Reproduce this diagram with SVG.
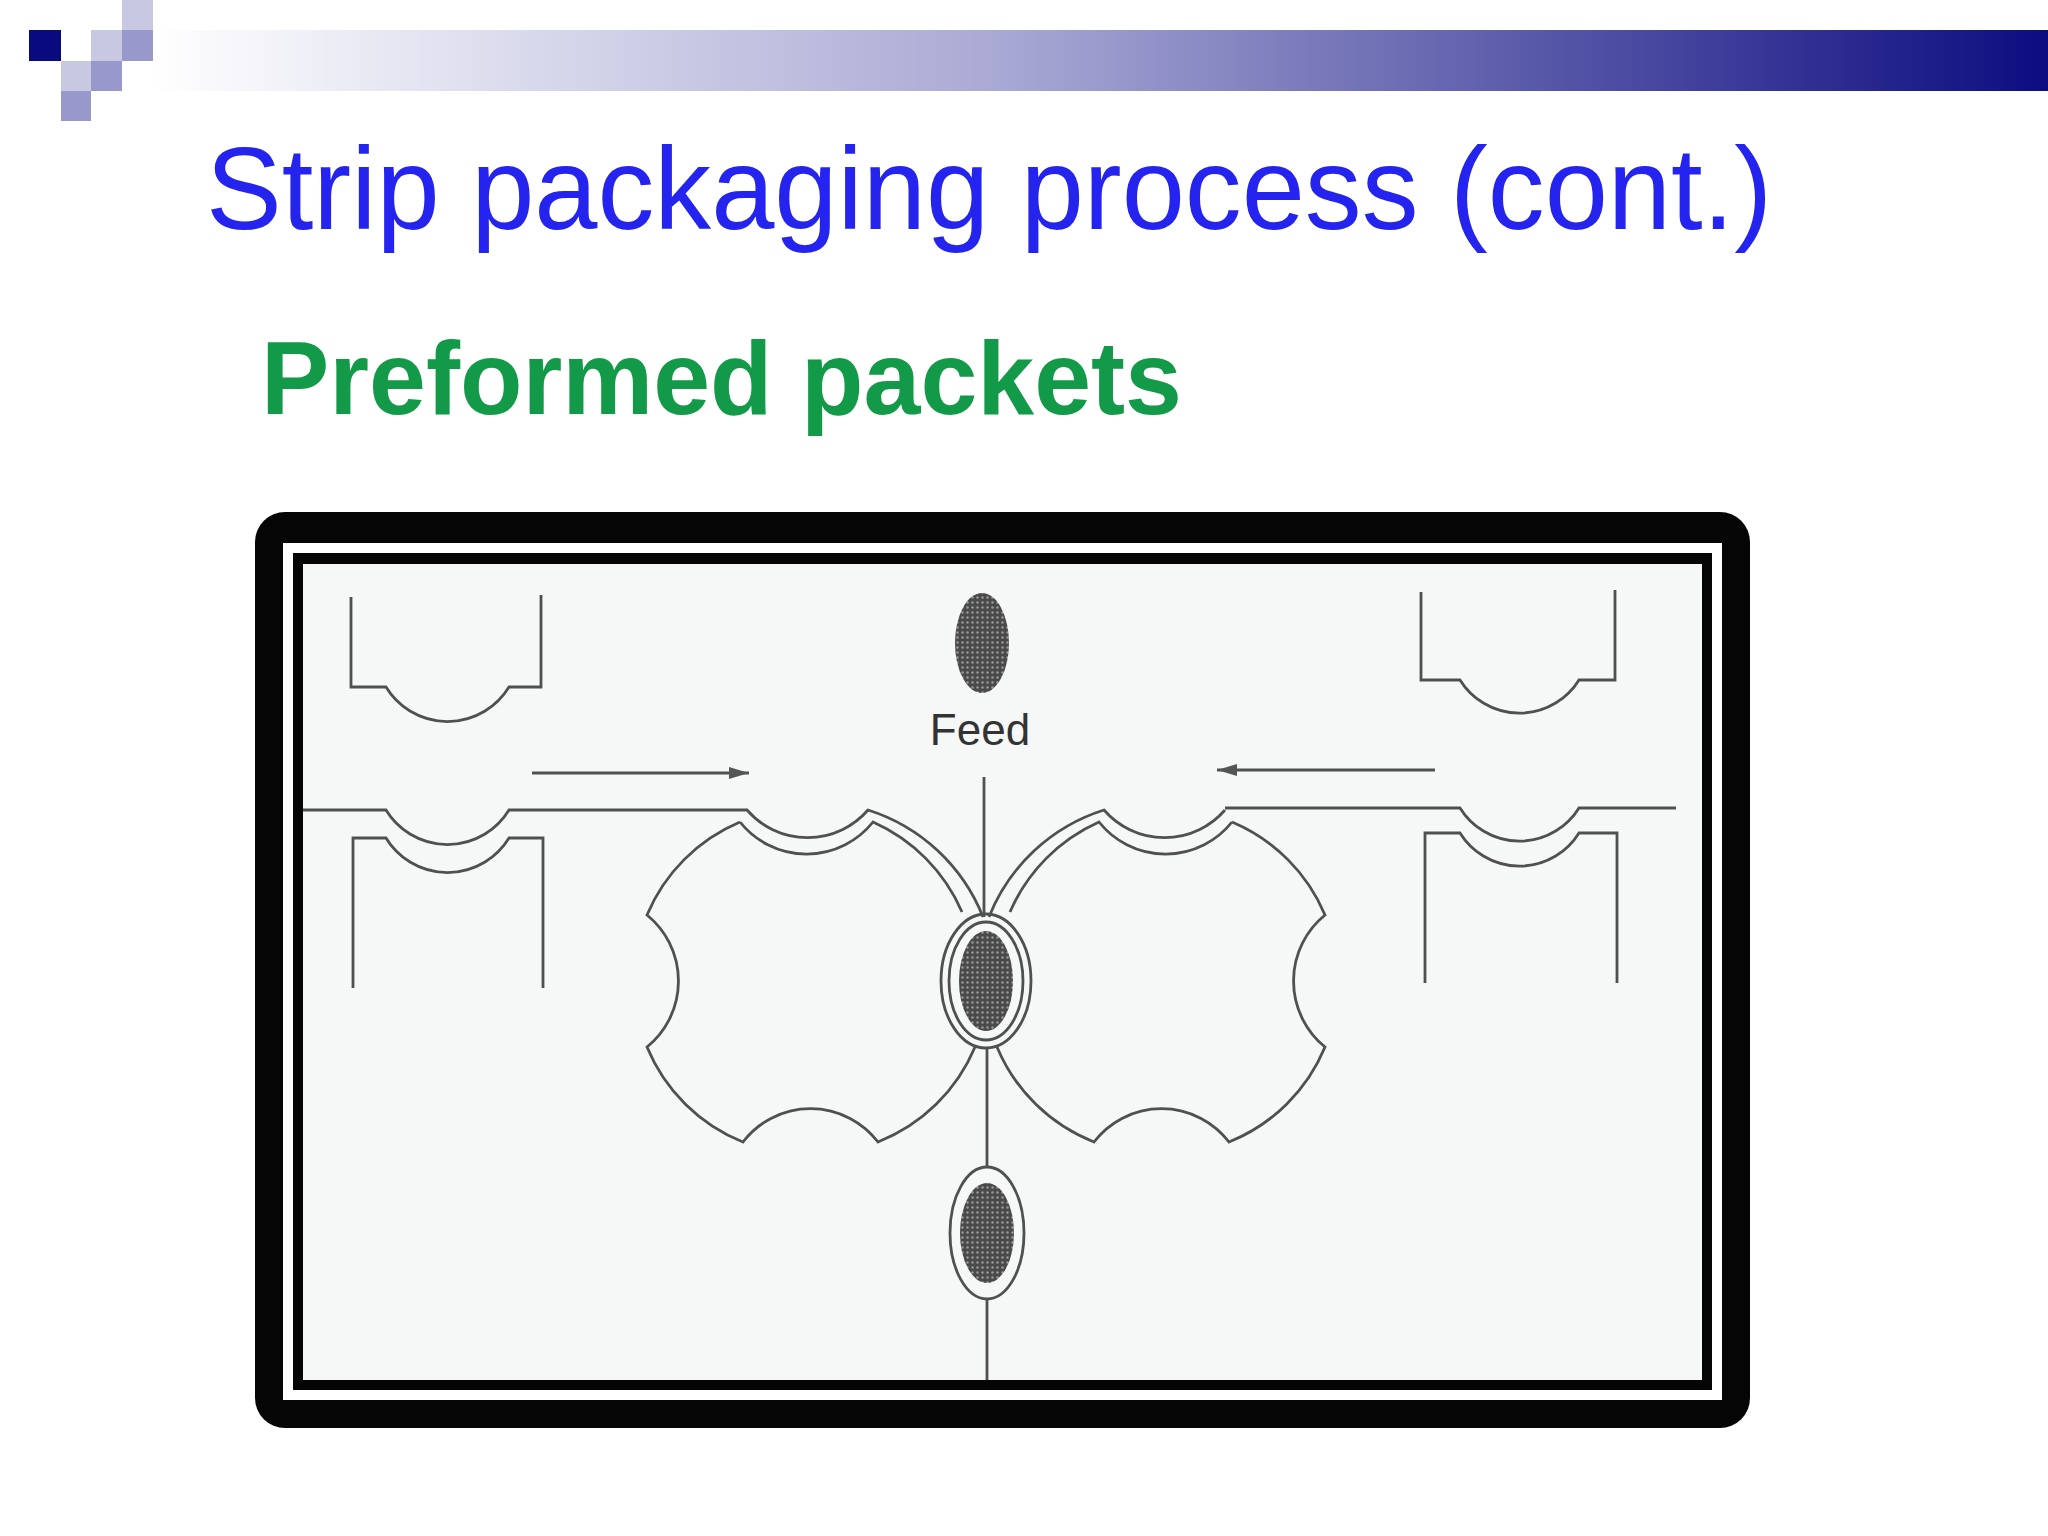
<svg xmlns="http://www.w3.org/2000/svg" width="2048" height="1536" viewBox="0 0 2048 1536">
<defs>
<linearGradient id="bar" x1="0" x2="1" y1="0" y2="0">
<stop offset="0" stop-color="#ffffff"/><stop offset="0.45" stop-color="#a8a8d4"/><stop offset="1" stop-color="#0c0c80"/>
</linearGradient>
<pattern id="dots" width="5" height="5" patternUnits="userSpaceOnUse">
<rect width="5" height="5" fill="#4a4a4a"/><circle cx="2.5" cy="2.5" r="1.2" fill="#9a9a9a"/>
</pattern>
<marker id="ah" viewBox="0 0 20 12" refX="20" refY="6" markerWidth="20" markerHeight="12" markerUnits="userSpaceOnUse" orient="auto">
<path d="M0,0 L20,6 L0,12 Z" fill="#555"/>
</marker>
<style>
.ln{fill:none;stroke:#505050;stroke-width:2.8}
.pill{fill:url(#dots)}
</style>
</defs>
<rect width="2048" height="1536" fill="#ffffff"/>
<g id="header">
<rect x="153" y="30" width="1895" height="61" fill="url(#bar)"/>
<rect x="29" y="30" width="32" height="31" fill="#0a0a80"/>
<rect x="61" y="61" width="30" height="30" fill="#c8c8e2"/>
<rect x="91" y="61" width="31" height="30" fill="#9898cc"/>
<rect x="91" y="30" width="31" height="31" fill="#c8c8e2"/>
<rect x="122" y="30" width="31" height="31" fill="#9898cc"/>
<rect x="122" y="0" width="31" height="30" fill="#c8c8e2"/>
<rect x="61" y="91" width="30" height="30" fill="#9898cc"/>
</g>
<text x="206" y="229" font-family="Liberation Sans, Arial, sans-serif" font-size="116" fill="#2424ee" textLength="1566" lengthAdjust="spacingAndGlyphs">Strip packaging process (cont.)</text>
<text x="261" y="414" font-family="Liberation Sans, Arial, sans-serif" font-size="104" font-weight="bold" fill="#139a48" textLength="921" lengthAdjust="spacingAndGlyphs">Preformed packets</text>
<g id="frame">
<rect x="255" y="512" width="1495" height="916" rx="30" fill="#050505"/>
<rect x="283" y="543" width="1439" height="857" fill="#ffffff"/>
<rect x="293" y="553" width="1419" height="837" fill="#050505"/>
<rect x="303" y="564" width="1399" height="816" fill="#f6f8f8"/>
</g>
<g id="cups-left">
<path class="ln" d="M351,597 V687 H386 A72 72 0 0 0 509,687 H541 V595"/>
<path class="ln" d="M353,988 V838 H386 A72 72 0 0 0 509,838 H543 V988"/>
</g>
<g id="cups-right">
<path class="ln" d="M1421,592 V680 H1460 A70 70 0 0 0 1579,680 H1615 V590"/>
<path class="ln" d="M1425,983 V833 H1460 A70 70 0 0 0 1579,833 H1617 V983"/>
</g>
<g id="wheel-left">
<path class="ln" d="M740,822 A85 85 0 0 0 873,822 A174 174 0 0 1 962,912 M975,1047 A174 174 0 0 1 878,1142 A85 85 0 0 0 743,1142 A174 174 0 0 1 647,1047 A85 85 0 0 0 647,915 A174 174 0 0 1 740,822"/>
</g>
<g id="wheel-right" transform="translate(1972,0) scale(-1,1)">
<path class="ln" d="M740,822 A85 85 0 0 0 873,822 A174 174 0 0 1 962,912 M975,1047 A174 174 0 0 1 878,1142 A85 85 0 0 0 743,1142 A174 174 0 0 1 647,1047 A85 85 0 0 0 647,915 A174 174 0 0 1 740,822"/>
</g>
<g id="connectors">
<path class="ln" d="M303,810 H386 A72 72 0 0 0 509,810 H747 A80 80 0 0 0 868,810 A183 183 0 0 1 983,917"/>
<path class="ln" transform="translate(1972,0) scale(-1,1)" d="M747,810 A80 80 0 0 0 868,810 A183 183 0 0 1 983,917"/>
<path class="ln" d="M1225,808 H1460 A70 70 0 0 0 1579,808 H1676"/>
<line class="ln" x1="532" y1="773" x2="749" y2="773" marker-end="url(#ah)"/>
<line class="ln" x1="1435" y1="770" x2="1217" y2="770" marker-end="url(#ah)"/>
<line class="ln" x1="984" y1="777" x2="984" y2="917"/>
<line class="ln" x1="987" y1="1048" x2="987" y2="1167"/>
<line class="ln" x1="987" y1="1300" x2="987" y2="1380"/>
</g>
<g id="feed">
<ellipse class="pill" cx="982" cy="643" rx="27" ry="50"/>
<text x="980" y="745" text-anchor="middle" font-family="Liberation Sans, Arial, sans-serif" font-size="44" fill="#333">Feed</text>
</g>
<g id="pill-center">
<ellipse class="ln" cx="986" cy="981" rx="45" ry="67"/>
<ellipse class="ln" cx="986" cy="981" rx="37" ry="59"/>
<ellipse class="pill" cx="986" cy="981" rx="27" ry="50"/>
</g>
<g id="pill-lower">
<ellipse class="ln" cx="987" cy="1233" rx="37" ry="66"/>
<ellipse class="pill" cx="987" cy="1233" rx="27" ry="50"/>
</g>
</svg>
